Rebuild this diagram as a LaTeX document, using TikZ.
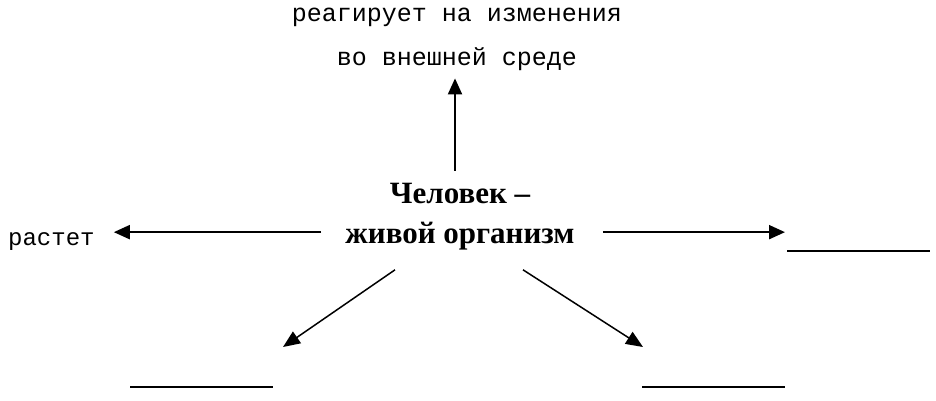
\documentclass[tikz,border=0pt]{standalone}
\usepackage{fontspec}
\setmainfont{Liberation Serif}
\newfontfamily\monof{Liberation Mono}
\usetikzlibrary{arrows.meta,calc}
\begin{document}
\begin{tikzpicture}[x=1pt,y=-1pt,
  arr/.style={line width=2pt,-{Triangle[length=16pt,width=14pt]}},
  darr/.style={line width=1.5pt,-{Triangle[length=17pt,width=14pt]}},
  blank/.style={line width=2pt},
  mono/.style={font=\monof\fontsize{25}{44}\selectfont, inner sep=0pt},
  core/.style={font=\bfseries\fontsize{31}{40}\selectfont, align=center, inner sep=0pt}]
\useasboundingbox[fill=white] (0,0) rectangle (936,400);
\node[mono, align=center, anchor=base] (top) at (457,65) {реагирует на изменения\\во внешней среде};
\node[core, anchor=base] (center) at (460,243) {Человек –\\живой организм};
\node[mono, font=\monof\fontsize{24}{30}\selectfont, anchor=base west] (grow) at (8,245) {растет};
% blank lines
\coordinate (bR1) at (787,251); \coordinate (bR2) at (930,251);
\coordinate (bL1) at (130,387); \coordinate (bL2) at (273,387);
\coordinate (bM1) at (642,387); \coordinate (bM2) at (785,387);
\draw[blank] (bR1) -- (bR2);
\draw[blank] (bL1) -- (bL2);
\draw[blank] (bM1) -- (bM2);
% arrows
\coordinate (cU) at ($(top.south |- center.north)+(-2,-12)$);
\coordinate (tU) at ($(top.south)+(-2,8)$);
\draw[arr] (cU) -- (tU);
\coordinate (cL) at ($(center.west)+(-24,16)$);
\coordinate (gE) at ($(grow.east)+(19,0)$);
\draw[arr] (cL) -- (gE |- cL);
\coordinate (cR) at ($(center.east)+(28,16)$);
\coordinate (rT) at ($(bR1)+(-2,0)$);
\draw[arr] (cR) -- (rT |- cR);
\coordinate (cDL) at ($(center.south)+(-65,20)$);
\draw[darr] (cDL) -- ($(bL2)+(10,-40)$);
\coordinate (cDR) at ($(center.south)+(63,20)$);
\draw[darr] (cDR) -- ($(bM1)+(1,-40)$);
\end{tikzpicture}
\end{document}
